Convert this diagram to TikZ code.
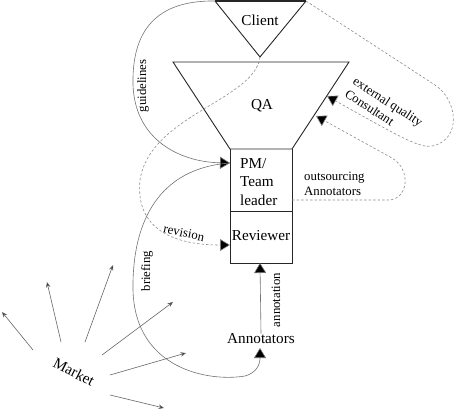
\documentclass[tikz,border=0pt]{standalone}
\usepackage{fontspec}
\setmainfont{Liberation Serif}
\usetikzlibrary{arrows.meta}
\tikzset{
  x=1pt,y=-1pt,
  outl/.style={draw=black!85,line width=0.9pt,line join=miter},
  big/.style={font=\fontsize{15.2}{18.5}\selectfont,inner sep=0pt},
  small/.style={font=\fontsize{12.8}{15}\selectfont,inner sep=0pt},
  solidc/.style={draw=black!55,line width=0.6pt},
  dashc/.style={draw=black!45,line width=0.6pt,dash pattern=on 2.5pt off 2pt},
  tri/.style={-{Triangle[length=10pt,width=12pt,fill=black]}},
  mk/.style={draw=black!60,line width=0.6pt,-{Stealth[length=5.5pt,width=4.5pt,fill=black]}}
}
\begin{document}
\begin{tikzpicture}
\useasboundingbox (0,0) rectangle (474,413);
% key coordinates
\coordinate (clL) at (215,1);
\coordinate (clR) at (306,1);
\coordinate (clA) at (260,57);
\coordinate (qa1) at (173,62);
\coordinate (qa2) at (349,62);
\coordinate (qa3) at (292,149);
\coordinate (qa4) at (230,149);
\coordinate (bxBL) at (230,263);
\coordinate (bxBR) at (292,263);
\coordinate (pmIn) at (230,163);
\coordinate (rvIn) at (230,245);
\coordinate (qaA) at (327,96);
\coordinate (qaB) at (316,116);
\coordinate (bxR) at (292,200);
\coordinate (anTop) at (260,263);
\coordinate (anBot) at (260,348);
% shapes
\draw[outl] (clL) -- (clA) -- (clR);
\draw[line width=2.6pt,black!85] (clL) -- (clR);
\draw[outl] (qa1) -- (qa2) -- (qa3) -- (qa4) -- cycle;
\draw[outl] (qa4) -- (bxBL) -- (bxBR) -- (qa3);
\draw[outl] (230,211) -- (292,211);
% texts
\node[big] (client) at (260,20) {Client};
\node[big] (qa) at (262,106) {QA};
\node[big,align=left,anchor=west] (pm) at (240,182) {PM/\\Team\\leader};
\node[big] (rev) at (261,236) {Reviewer};
\node[big] (ann) at (261,339) {Annotators};
\node[big,rotate=-27] (market) at (74,372) {Market};
% connectors
\draw[solidc,tri] (clL) .. controls (148,0) and (132,40) .. (133,85)
  .. controls (135,140) and (180,162) .. (pmIn);
\node[small,rotate=90] (guid) at (143,86) {guidelines};
\draw[dashc,tri] (clA) .. controls (255,100) and (150,115) .. (140,180)
  .. controls (135,230) and (175,245) .. (rvIn);
\node[small,rotate=-12] (revl) at (184,233) {revision};
\draw[solidc,tri] (pmIn) .. controls (160,168) and (132,220) .. (133,290)
  .. controls (135,370) and (210,382) .. (245,376)
  .. controls (256,373) and (260,365) .. (anBot);
\node[small,rotate=90] (brief) at (147,271) {briefing};
\draw[solidc,tri] (ann.north) -- (anTop);
\node[small,rotate=90] (annl) at (276,300) {annotation};
\draw[dashc,tri] (clR) -- (435,85) .. controls (458,100) and (462,140) .. (432,146)
  .. controls (420,148) and (405,140) .. (qaA);
\node[small,rotate=-33,align=left] (ext) at (384,108) {external quality\\Consultant};
\draw[dashc,tri] (bxR) -- (388,200) .. controls (408,200) and (412,170) .. (392,158) -- (qaB);
\node[small,align=left,anchor=west] (outs) at (304,184) {outsourcing\\Annotators};
% market arrows
\coordinate (m1) at (2,312);
\coordinate (m2) at (47,282);
\coordinate (m3) at (113,265);
\coordinate (m4) at (173,302);
\coordinate (m5) at (186,353);
\coordinate (m6) at (164,408);
\draw[mk] (33,350) -- (m1);
\draw[mk] (61,342) -- (m2);
\draw[mk] (85,342) -- (m3);
\draw[mk] (102,355) -- (m4);
\draw[mk] (110,375) -- (m5);
\draw[mk] (110,395) -- (m6);
\end{tikzpicture}
\end{document}
